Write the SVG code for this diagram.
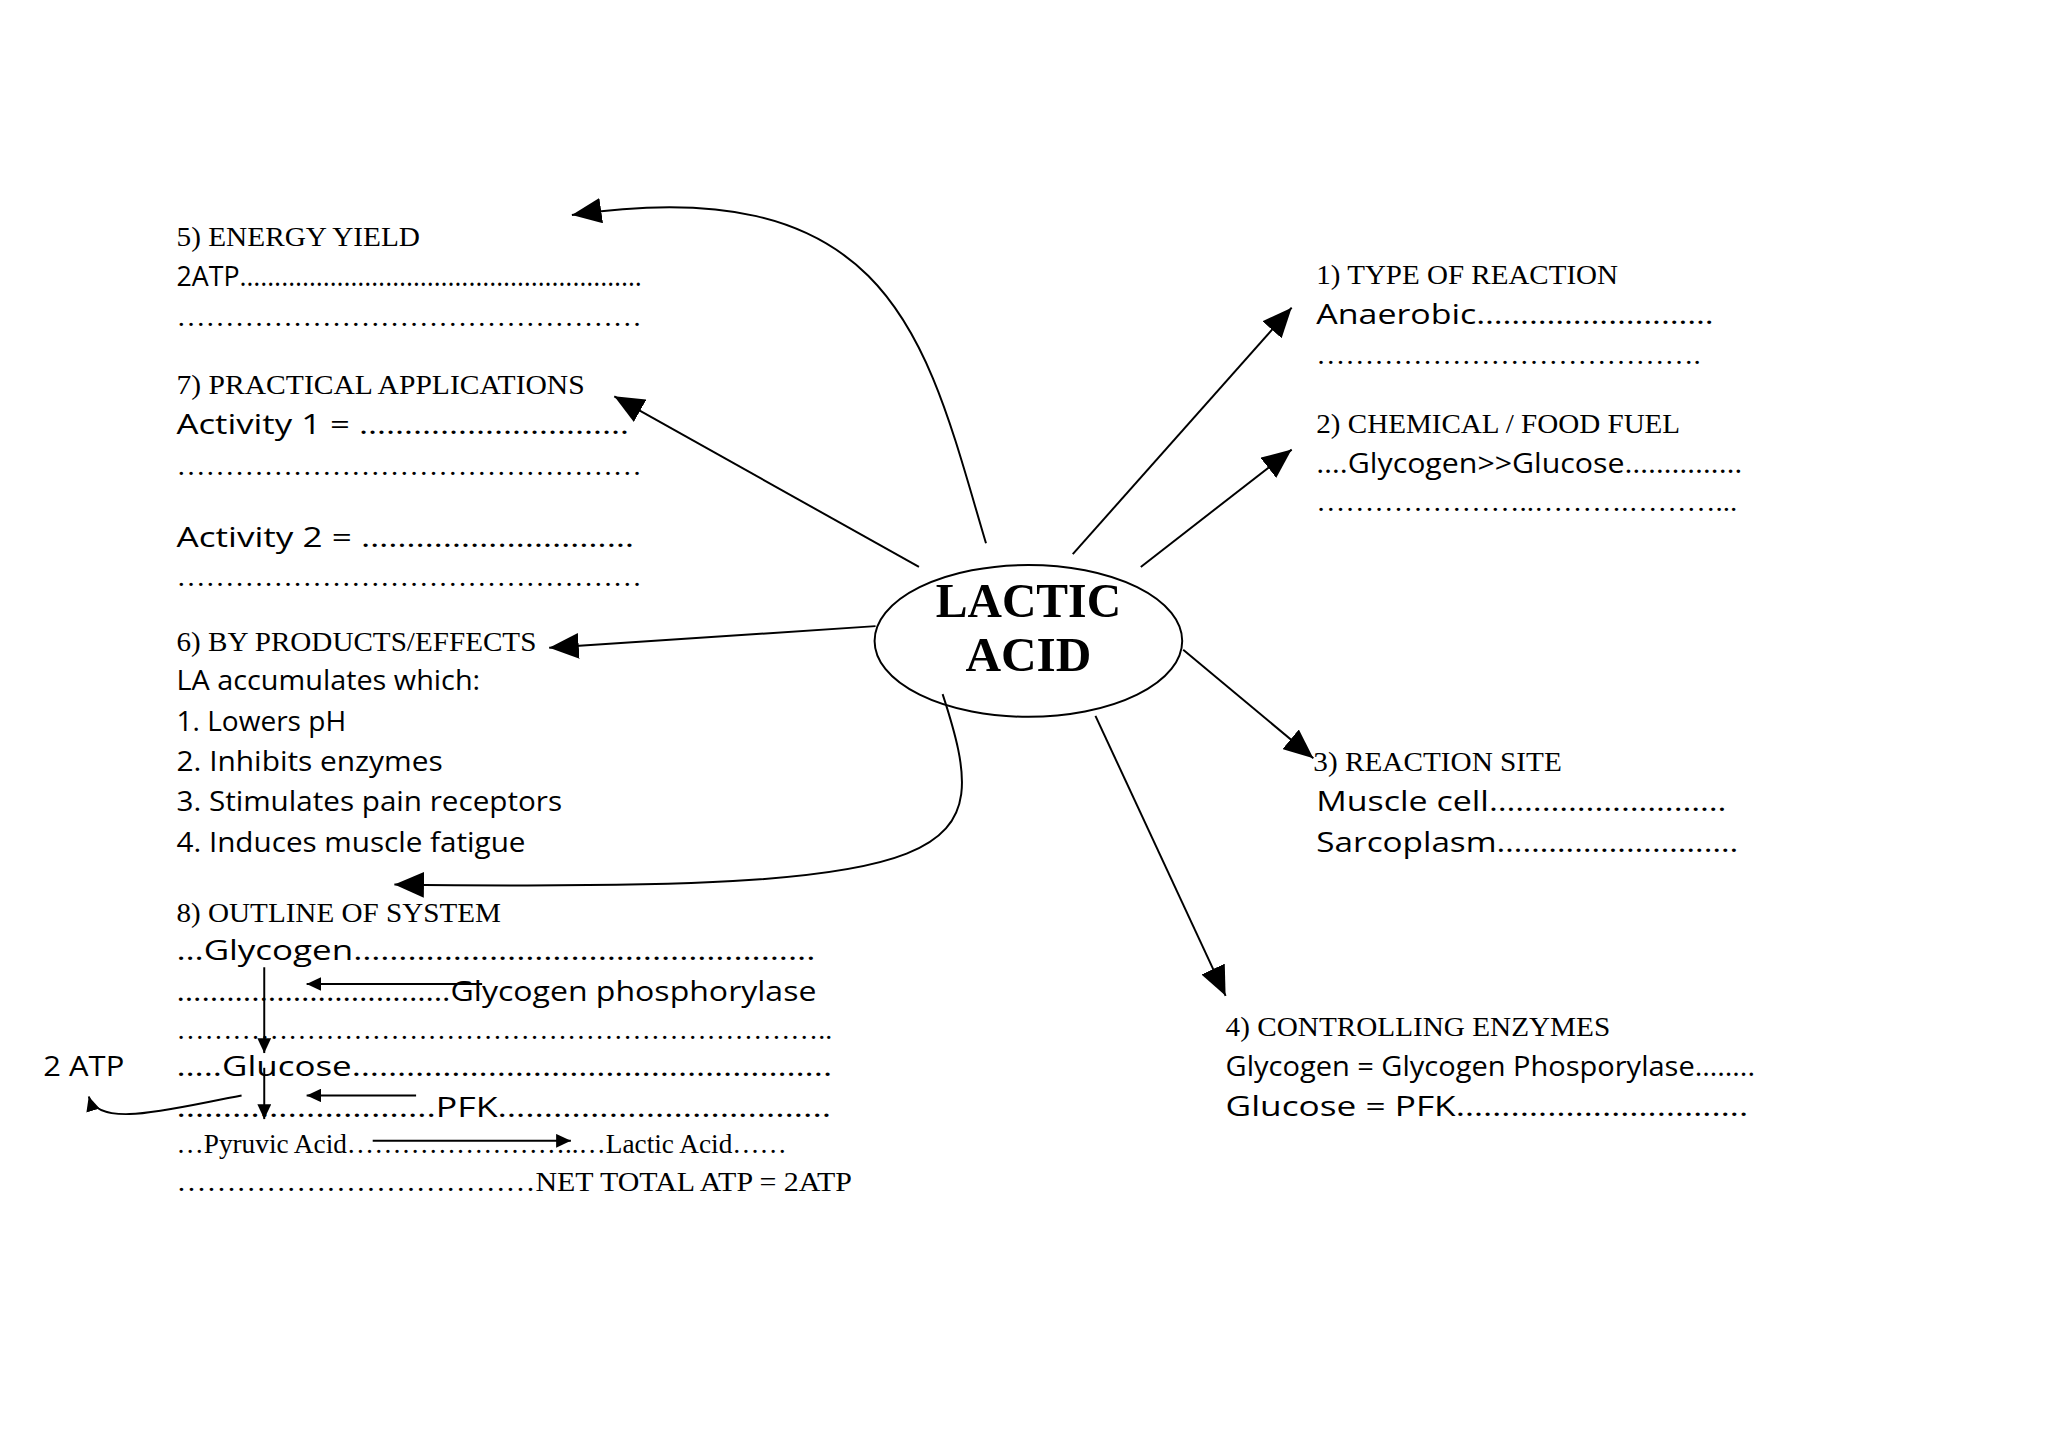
<svg xmlns="http://www.w3.org/2000/svg" width="2048" height="1447" viewBox="0 0 2048 1447">
<style>
.h{font-family:"Liberation Serif",serif;font-size:28px;fill:#000}
.c{font-family:"Open Sans","DejaVu Sans",sans-serif;font-size:27px;fill:#000}
.ln{fill:none;stroke:#000;stroke-width:2}
.sm{fill:none;stroke:#000;stroke-width:2}
</style>
<defs>
<marker id="big" markerUnits="userSpaceOnUse" markerWidth="32" markerHeight="26" refX="30" refY="13" orient="auto"><path d="M0,0 L30,13 L0,26 z" fill="#000"/></marker>
<marker id="small" markerUnits="userSpaceOnUse" markerWidth="16" markerHeight="14" refX="15" refY="7" orient="auto"><path d="M0,0 L15,7 L0,14 z" fill="#000"/></marker>
</defs>
<rect width="2048" height="1447" fill="#fff"/>
<g transform="scale(0.986)">
<g id="center">
<ellipse cx="1043" cy="650" rx="156" ry="77" fill="none" stroke="#000" stroke-width="2"/>
<text x="1043" y="626" text-anchor="middle" font-family="Liberation Serif,serif" font-weight="bold" font-size="50" textLength="188" lengthAdjust="spacingAndGlyphs">LACTIC</text>
<text x="1043" y="681" text-anchor="middle" font-family="Liberation Serif,serif" font-weight="bold" font-size="50">ACID</text>
</g>
<g id="connectors">
<path class="ln" d="M1000,551 C940,350 910,170 580,218" marker-end="url(#big)"/>
<line class="ln" x1="932" y1="575" x2="623" y2="402" marker-end="url(#big)"/>
<line class="ln" x1="888" y1="635" x2="557" y2="657" marker-end="url(#big)"/>
<path class="ln" d="M956,704 C1010,870 990,905 400,897" marker-end="url(#big)"/>
<line class="ln" x1="1088" y1="562" x2="1310" y2="312" marker-end="url(#big)"/>
<line class="ln" x1="1157" y1="575" x2="1310" y2="456" marker-end="url(#big)"/>
<line class="ln" x1="1200" y1="659" x2="1332" y2="769" marker-end="url(#big)"/>
<line class="ln" x1="1111" y1="726" x2="1243" y2="1010" marker-end="url(#big)"/>
</g>
<g id="n5">
<text class="h" x="179" y="249" textLength="247" lengthAdjust="spacingAndGlyphs">5) ENERGY YIELD</text>
<text class="c" x="179" y="290" textLength="472" lengthAdjust="spacingAndGlyphs">2ATP…………………………………………….……</text>
<text class="h" x="179" y="331" textLength="472" lengthAdjust="spacingAndGlyphs">…………………………………………</text>
</g>
<g id="n7">
<text class="h" x="179" y="400" textLength="414" lengthAdjust="spacingAndGlyphs">7) PRACTICAL APPLICATIONS</text>
<text class="c" x="179" y="440" textLength="459" lengthAdjust="spacingAndGlyphs">Activity 1 = …………………………</text>
<text class="h" x="179" y="482" textLength="472" lengthAdjust="spacingAndGlyphs">…………………………………………</text>
<text class="c" x="179" y="555" textLength="464" lengthAdjust="spacingAndGlyphs">Activity 2 = …………………………</text>
<text class="h" x="179" y="594" textLength="472" lengthAdjust="spacingAndGlyphs">…………………………………………</text>
</g>
<g id="n6">
<text class="h" x="179" y="660" textLength="365" lengthAdjust="spacingAndGlyphs">6) BY PRODUCTS/EFFECTS</text>
<text class="c" x="179" y="700" textLength="308" lengthAdjust="spacingAndGlyphs">LA accumulates which:</text>
<text class="c" x="179" y="741" textLength="172" lengthAdjust="spacingAndGlyphs">1. Lowers pH</text>
<text class="c" x="179" y="782" textLength="270" lengthAdjust="spacingAndGlyphs">2. Inhibits enzymes</text>
<text class="c" x="179" y="823" textLength="391" lengthAdjust="spacingAndGlyphs">3. Stimulates pain receptors</text>
<text class="c" x="179" y="864" textLength="354" lengthAdjust="spacingAndGlyphs">4. Induces muscle fatigue</text>
</g>
<g id="n8">
<text class="h" x="179" y="935" textLength="329" lengthAdjust="spacingAndGlyphs">8) OUTLINE OF SYSTEM</text>
<text class="c" x="179" y="974" textLength="648" lengthAdjust="spacingAndGlyphs">…Glycogen…………………………………………...</text>
<text class="c" x="179" y="1015" textLength="649" lengthAdjust="spacingAndGlyphs">……………………………Glycogen phosphorylase</text>
<text class="h" x="179" y="1054" textLength="665" lengthAdjust="spacingAndGlyphs">……………………………………………………………..</text>
<text class="c" x="179" y="1091" textLength="665" lengthAdjust="spacingAndGlyphs">…..Glucose……………………………………………..</text>
<text class="c" x="44" y="1091" textLength="82" lengthAdjust="spacingAndGlyphs">2 ATP</text>
<text class="c" x="179" y="1133" textLength="664" lengthAdjust="spacingAndGlyphs">……………………….PFK……………………………...</text>
<text class="h" x="179" y="1169" textLength="619" lengthAdjust="spacingAndGlyphs">…Pyruvic Acid……………………..…Lactic Acid……</text>
<text class="h" x="179" y="1208" textLength="685" lengthAdjust="spacingAndGlyphs">………………………………NET TOTAL ATP = 2ATP</text>
<line class="sm" x1="268" y1="981" x2="268" y2="1068" marker-end="url(#small)"/>
<line class="sm" x1="268" y1="1083" x2="268" y2="1135" marker-end="url(#small)"/>
<line class="sm" x1="489" y1="998" x2="311" y2="998" marker-end="url(#small)"/>
<line class="sm" x1="422" y1="1111" x2="311" y2="1111" marker-end="url(#small)"/>
<line class="sm" x1="378" y1="1157" x2="579" y2="1157" marker-end="url(#small)"/>
<path class="sm" d="M245,1111 C170,1125 100,1145 90,1112" marker-end="url(#small)"/>
</g>
<g id="n1">
<text class="h" x="1335" y="288" textLength="306" lengthAdjust="spacingAndGlyphs">1) TYPE OF REACTION</text>
<text class="c" x="1335" y="329" textLength="403" lengthAdjust="spacingAndGlyphs">Anaerobic………………………</text>
<text class="h" x="1335" y="369" textLength="390" lengthAdjust="spacingAndGlyphs">………………………………….</text>
</g>
<g id="n2">
<text class="h" x="1335" y="439" textLength="369" lengthAdjust="spacingAndGlyphs">2) CHEMICAL / FOOD FUEL</text>
<text class="c" x="1335" y="480" textLength="432" lengthAdjust="spacingAndGlyphs">….Glycogen&gt;&gt;Glucose……………</text>
<text class="h" x="1335" y="518" textLength="427" lengthAdjust="spacingAndGlyphs">…………………..……….………...</text>
</g>
<g id="n3">
<text class="h" x="1332" y="782" textLength="252" lengthAdjust="spacingAndGlyphs">3) REACTION SITE</text>
<text class="c" x="1335" y="823" textLength="416" lengthAdjust="spacingAndGlyphs">Muscle cell………………………</text>
<text class="c" x="1335" y="864" textLength="428" lengthAdjust="spacingAndGlyphs">Sarcoplasm……………………….</text>
</g>
<g id="n4">
<text class="h" x="1243" y="1051" textLength="390" lengthAdjust="spacingAndGlyphs">4) CONTROLLING ENZYMES</text>
<text class="c" x="1243" y="1091" textLength="537" lengthAdjust="spacingAndGlyphs">Glycogen = Glycogen Phosporylase……..</text>
<text class="c" x="1243" y="1132" textLength="530" lengthAdjust="spacingAndGlyphs">Glucose = PFK…….…………………….</text>
</g>
</g>
</svg>
